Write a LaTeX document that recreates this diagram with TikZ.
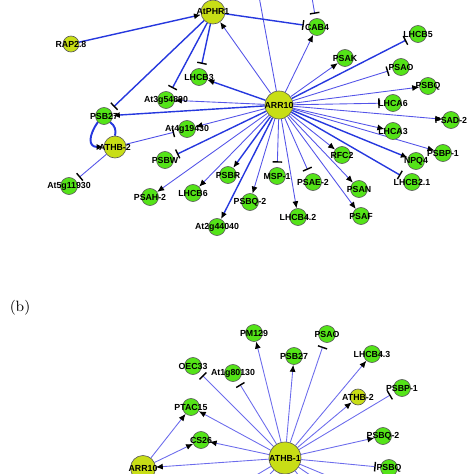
\documentclass[tikz,border=0pt]{standalone}
\usepackage{fontspec}
\newfontfamily\genefont{Liberation Sans}
\usetikzlibrary{arrows.meta, positioning, calc}
\definecolor{leaf}{RGB}{84,228,24}
\definecolor{lime}{RGB}{200,222,22}
\definecolor{edgeblue}{RGB}{84,84,232}
\definecolor{paleblue}{RGB}{108,108,236}
\definecolor{deepblue}{RGB}{38,56,222}
\pgfdeclarelayer{bg}
\pgfsetlayers{bg,main}

\begin{document}
\begin{tikzpicture}[x=0.02cm, y=-0.02cm,
  lbl/.style={font=\genefont\fontsize{5}{5}\selectfont\bfseries, inner sep=0pt},
  gene/.style={circle, draw=black!65, line width=0.35pt, fill=leaf, minimum size=0.34cm, inner sep=0pt, label={[lbl]center:#1}},
  hub/.style={gene=#1, fill=lime},
  act/.style={draw=edgeblue, line width=0.5pt, -{Latex[color=black, length=4pt, width=3.4pt]}},
  inh/.style={draw=edgeblue, line width=0.5pt, -{Bar[color=black, width=5.5pt, line width=0.8pt]}, shorten >=2.6pt},
  strong/.style={draw=deepblue, line width=0.8pt},
  pale/.style={draw=paleblue}]
  \useasboundingbox (0,0) rectangle (474,474);

  % (a) ARR10 / AtPHR1 network
  \node[hub=ARR10, minimum size=0.56cm] (arr10) at (279,105) {};
  \node[hub=AtPHR1, minimum size=0.48cm] (atphr1) at (213,12) {};
  \node[hub=RAP2.8, minimum size=0.32cm] (rap) at (71,44) {};
  \node[hub=ATHB-2, minimum size=0.44cm] (athb2) at (115,147) {};

  \node[gene=CAB4] (cab4) at (317,27) {};
  \node[gene=LHCB5] (lhcb5) at (418,34) {};
  \node[gene=PSAK] (psak) at (345,58) {};
  \node[gene=PSAO] (psao) at (401,67) {};
  \node[gene=PSBQ] (psbq) at (428,86) {};
  \node[gene=LHCA6] (lhca6) at (393,103) {};
  \node[gene=PSAD-2] (psad2) at (451,120) {};
  \node[gene=LHCA3] (lhca3) at (393,131) {};
  \node[gene=PSBP-1] (psbp1) at (443,153) {};
  \node[gene=NPQ4] (npq4) at (416,161) {};
  \node[gene=LHCB2.1] (lhcb21) at (412,182) {};
  \node[gene=RFC2] (rfc2) at (342,155) {};
  \node[gene=PSAN] (psan) at (359,189) {};
  \node[gene=PSAF] (psaf) at (361,216) {};
  \node[gene=PSAE-2] (psae2) at (313,182) {};
  \node[gene=LHCB4.2] (lhcb42) at (298,217) {};
  \node[gene=MSP-1] (msp1) at (277,176) {};
  \node[gene=PSBQ-2] (psbq2) at (250,202) {};
  \node[gene=PSBR] (psbr) at (228,175) {};
  \node[gene=At2g44040] (at2g) at (217,227) {};
  \node[gene=LHCB6] (lhcb6) at (193,193) {};
  \node[gene=PSAH-2] (psah2) at (150,197) {};
  \node[gene=PSBW] (psbw) at (165,160) {};
  \node[gene=At4g19430] (at4g) at (187,129) {};
  \node[gene=At3g54890] (at3g) at (166,100) {};
  \node[gene=LHCB3] (lhcb3) at (199,77) {};
  \node[gene=PSB27] (psb27) at (104,116) {};
  \node[gene=At5g11930] (at5g) at (69,186) {};

  \coordinate (upA) at (256,-20);
  \coordinate (upB) at (309,-20);

  % (b) ATHB-1 network
  \node[font=\fontsize{8.5}{10}\selectfont] (tagb) at (20,308) {(b)};

  \node[hub=ATHB-1, minimum size=0.64cm] (athb1) at (285,458) {};
  \node[hub=ATHB-2, minimum size=0.32cm] (bathb2) at (358,397) {};
  \node[hub=ARR10, minimum size=0.5cm] (barr) at (143,468) {};
  \node[gene=PM129] (pm129) at (254,333) {};
  \node[gene=PSAO] (bpsao) at (327,334) {};
  \node[gene=PSB27] (bpsb27) at (294,356) {};
  \node[gene=LHCB4.3] (lhcb43) at (372,354) {};
  \node[gene=PSBP-1] (bpsbp1) at (402,388) {};
  \node[gene=PSBQ-2] (bpsbq2) at (383,436) {};
  \node[gene=PSBQ] (bpsbq) at (389,468) {};
  \node[gene=At1g80130] (at1g) at (233,373) {};
  \node[gene=OEC33] (oec33) at (193,366) {};
  \node[gene=PTAC15] (ptac15) at (191,407) {};
  \node[gene=CS26] (cs26) at (201,440) {};

  \foreach \i/\x/\y in {1/228/492, 2/246/500, 3/268/505, 4/318/500, 5/338/494, 6/352/486}
    \coordinate (down\i) at (\x,\y);

  \begin{pgfonlayer}{bg}
    \foreach \t in {cab4, psak, psbq, psad2, lhca3, psbp1, rfc2, psan, psaf, lhcb42, psbq2, lhcb6, psah2, at4g, at3g, atphr1}
      \draw[act] (arr10) -- (\t);
    \foreach \t in {lhca6, psao, psae2, msp1}
      \draw[inh] (arr10) -- (\t);
    \foreach \t in {lhcb3, psb27, at2g, psbr, npq4}
      \draw[act, strong] (arr10) -- (\t);
    \foreach \t in {lhcb5, psbw, lhcb21}
      \draw[inh, strong] (arr10) -- (\t);
    \draw[edgeblue, line width=0.5pt] (upA) -- (arr10);
    \draw[inh] (upB) -- (cab4);

    \draw[act, strong] (rap) -- (atphr1);
    \foreach \t in {cab4, lhcb3, at3g, psb27}
      \draw[inh, strong] (atphr1) -- (\t);
    \draw[inh] (athb2) -- (at4g);
    \draw[inh] (athb2) -- (at5g);
    \draw[act, strong, line width=1.1pt] (psb27.south west) to[out=235, in=180, looseness=1.6] (athb2.west);
    \draw[strong, line width=1.1pt] (athb2.north) to[bend right=35] (psb27.south east);

    \foreach \t in {pm129, bpsb27, lhcb43, bathb2, bpsbq2, ptac15, cs26, barr}
      \draw[act, pale] (athb1) -- (\t);
    \foreach \t in {bpsao, bpsbp1, bpsbq, at1g, oec33}
      \draw[inh, pale] (athb1) -- (\t);
    \draw[act, pale] (barr) -- (ptac15);
    \draw[act, pale] (barr) -- (cs26);
    \foreach \i in {1,...,6}
      \draw[pale, line width=0.5pt] (athb1) -- (down\i);
  \end{pgfonlayer}
\end{tikzpicture}
\end{document}
